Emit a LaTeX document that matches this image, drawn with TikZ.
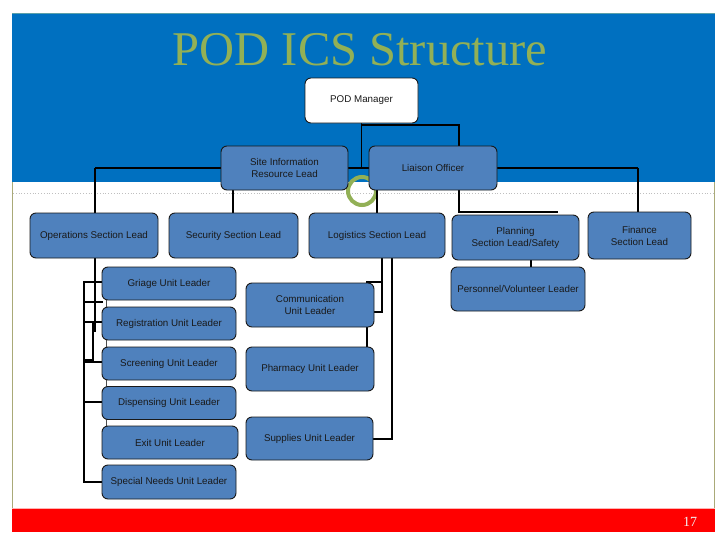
\documentclass[tikz,border=0pt]{standalone}
\usepackage{fontspec}
\setmainfont{Liberation Sans}
\newfontfamily\titlefont{Liberation Serif}
\definecolor{slideblue}{RGB}{0,112,192}
\definecolor{boxblue}{RGB}{79,129,189}
\definecolor{olive}{RGB}{146,176,86}
\definecolor{framecol}{RGB}{170,170,120}
\definecolor{footred}{RGB}{255,0,0}
\definecolor{topline}{RGB}{90,160,170}
\begin{document}
\begin{tikzpicture}[x=1pt,y=-1pt,
  box/.style={draw=black!90, line width=0.9pt, fill=boxblue, rounded corners=6pt,
    inner sep=0pt, align=center, font=\fontsize{9.8}{12}\selectfont, text=black!90},
  conn/.style={draw=black, line width=1.8pt},
  hid/.style={draw=black!70, line width=1pt}]
\useasboundingbox (0,0) rectangle (728,546);
\fill[white] (0,0) rectangle (728,546);
% slide background
\fill[slideblue] (12,13) rectangle (715,182);
\draw[topline, line width=0.8pt] (12,13) -- (715,13);
\draw[framecol, line width=0.8pt] (12.5,182) -- (12.5,508);
\draw[framecol, line width=0.8pt] (714.5,182) -- (714.5,508);
\draw[black!25, line width=0.8pt, dotted] (13,193) -- (714,193);
\fill[footred] (12,509) rectangle (715,532);
\draw[red!30, line width=0.6pt] (12,508) -- (715,508);
\node[font=\titlefont\fontsize{14}{14}\selectfont, text=white!95!black] (num) at (690,522) {17};
\node[font=\titlefont\fontsize{48.5}{50}\selectfont, text=olive] (title) at (360,50) {POD ICS Structure};
% green ring
\draw[olive, line width=4pt] (362,191) circle (14);
% junction coordinates
\coordinate (hubL) at (95,168);
\coordinate (hubR) at (638,168);
\coordinate (liaJ) at (459,125);
\coordinate (planJ) at (459,190);
\coordinate (planE) at (558,212);
% connectors (drawn before boxes)
\draw[conn] (hubL) -- (hubR);
\draw[conn] (361.5,123) -- (361.5,168);
\draw[conn] (361.5,125) -- (liaJ) -- (459,146);
\draw[conn] (hubL) -- (95,213);
\draw[conn] (hubR) -- (638,213);
\draw[conn] (233,190) -- (233,213);
\draw[conn] (377,190) -- (377,213);
\draw[conn] (planJ) -- (459,212) -- (planE);
\draw[conn] (531,260) -- (531,267);
% operations bracket
\draw[hid] (106,300) -- (106,442);
\draw[conn, line width=2.8pt] (95,258) -- (95,332);
\draw[conn] (84,281) -- (84,483);
\foreach \yy in {282,302,322,362,402,482} \draw[conn] (83.1,\yy) -- (103,\yy);
\draw[conn] (93,322) -- (93,360) -- (83.1,360);
% logistics bracket
\draw[conn] (392,258) -- (392,439) -- (372,439);
\draw[conn] (382,258) -- (382,312) -- (372,312);
\draw[conn] (382,282) -- (367,282) -- (367,347);
% boxes
\node[box, fill=white, minimum width=113pt, minimum height=45pt] (mgr) at (361.5,100.5) {POD Manager};
\node[box, minimum width=127pt, minimum height=44pt] (site) at (284.5,168) {Site Information\\Resource Lead};
\node[box, minimum width=128pt, minimum height=44pt] (liaison) at (433,168) {Liaison Officer};
\node[box, minimum width=128pt, minimum height=45pt] (ops) at (94,235.5) {Operations Section Lead};
\node[box, minimum width=129pt, minimum height=45pt] (sec) at (233.5,235.5) {Security Section Lead};
\node[box, minimum width=136pt, minimum height=45pt] (log) at (377,235.5) {Logistics Section Lead};
\node[box, minimum width=127pt, minimum height=45pt] (plan) at (515.5,237.5) {Planning\\Section Lead/Safety};
\node[box, minimum width=103pt, minimum height=47pt] (fin) at (639.5,235.5) {Finance\\Section Lead};
\node[box, minimum width=134pt, minimum height=44pt] (pers) at (518,289) {Personnel/Volunteer Leader};
\node[box, minimum width=134pt, minimum height=33pt] (gri) at (169,283.5) {Griage Unit Leader};
\node[box, minimum width=134pt, minimum height=33pt] (reg) at (169,323.5) {Registration Unit Leader};
\node[box, minimum width=134pt, minimum height=33pt] (scr) at (169,363.5) {Screening Unit Leader};
\node[box, minimum width=134pt, minimum height=33pt] (disp) at (169,403) {Dispensing Unit Leader};
\node[box, minimum width=136pt, minimum height=33pt] (exit) at (170,442.5) {Exit Unit Leader};
\node[box, minimum width=134pt, minimum height=34pt] (spec) at (169,482) {Special Needs Unit Leader};
\node[box, minimum width=128pt, minimum height=44pt] (comm) at (310,305) {Communication\\Unit Leader};
\node[box, minimum width=128pt, minimum height=44pt] (pharm) at (310,369) {Pharmacy Unit Leader};
\node[box, minimum width=127pt, minimum height=43pt] (supp) at (309.5,438.5) {Supplies Unit Leader};
\end{tikzpicture}
\end{document}
